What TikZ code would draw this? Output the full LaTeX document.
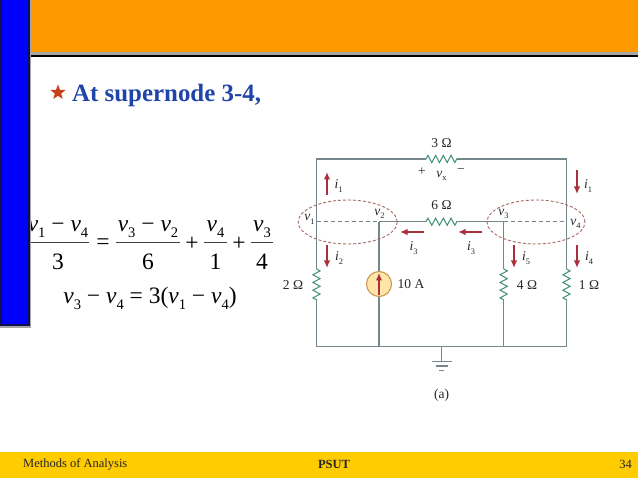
\documentclass[tikz,border=0pt]{standalone}
\usepackage{fontspec}
\setmainfont{Liberation Serif}
\usetikzlibrary{arrows.meta,decorations.pathmorphing,shapes.geometric}

\newcommand{\sub}[2]{\textit{#1}\raisebox{-.26em}{\scalebox{.62}{#2}}}

\definecolor{barblue}{HTML}{0000FF}
\definecolor{baredge}{HTML}{101050}
\definecolor{toporange}{HTML}{FF9900}
\definecolor{footyellow}{HTML}{FFCC00}
\definecolor{headblue}{HTML}{1F45A8}
\definecolor{starred}{HTML}{C8401A}
\definecolor{wiregray}{HTML}{75878C}
\definecolor{resgreen}{HTML}{3F8F72}
\definecolor{arrowred}{HTML}{A8303A}
\definecolor{loopred}{HTML}{A56A66}
\definecolor{srcfill}{HTML}{FFE6A8}
\definecolor{srcedge}{HTML}{C8924A}

\begin{document}
\begin{tikzpicture}[x=1pt,y=-1pt,
	wire/.style={wiregray, line width=1.3pt},
	res/.style={resgreen, line width=1pt, decorate, decoration={zigzag, segment length=7.7pt, amplitude=3.6pt}},
	pile/.style={arrowred, line width=1.6pt, -{Latex[length=7.5pt,width=6.5pt]}},
	loopdash/.style={loopred, line width=0.9pt, dash pattern=on 3pt off 2pt},
	middash/.style={wiregray, line width=0.9pt, dash pattern=on 4pt off 3pt},
	lab/.style={inner sep=0pt, text=black!85, font=\fontsize{13.5}{15}\selectfont},
	big/.style={inner sep=0pt, font=\fontsize{23.5}{27}\selectfont},
	foot/.style={inner sep=0pt, text=black!85, font=\fontsize{12.5}{14}\selectfont},
	frule/.style={black!75, line width=0.8pt}]

	\useasboundingbox (0,0) rectangle (638,478);
	\fill[white] (0,0) rectangle (638,478);

	% Equations
	\node[big] (num1) at (58,229.5) {\sub{v}{1} − \sub{v}{4}};
	\node[big] (den1) at (58,262) {3};
	\node[big] (eq1) at (103,244) {=};
	\node[big] (num2) at (148,229.5) {\sub{v}{3} − \sub{v}{2}};
	\node[big] (den2) at (148,262) {6};
	\node[big] (plus1) at (192,244) {+};
	\node[big] (num3) at (215.5,229.5) {\sub{v}{4}};
	\node[big] (den3) at (215.5,262) {1};
	\node[big] (plus2) at (239,244) {+};
	\node[big] (num4) at (262,229.5) {\sub{v}{3}};
	\node[big] (den4) at (262,262) {4};
	\draw[frule] (30,242) -- (89,242);
	\draw[frule] (116,242) -- (180,242);
	\draw[frule] (204,242) -- (227,242);
	\draw[frule] (251,242) -- (273,242);
	\node[big] (eqline) at (150,298) {\sub{v}{3} − \sub{v}{4} = 3(\sub{v}{1} − \sub{v}{4})};

	% Frame
	\fill[gray!70] (0,0) rectangle (31,328);
	\fill[baredge] (0,0) rectangle (30,326);
	\fill[barblue] (2,0) rectangle (28,324);
	\fill[toporange] (31,0) rectangle (638,52);
	\fill[gray!70] (31,52) rectangle (638,55);
	\fill[black] (31,55) rectangle (638,57);
	\fill[footyellow] (0,452) rectangle (638,478);
	\node[foot, anchor=west] (title) at (23,464.5) {Methods of Analysis};
	\node[foot] (org) at (334,464.5) {\textbf{PSUT}};
	\node[foot, anchor=east] (page) at (632,464.5) {34};

	% Heading
	\node[star, star points=5, star point ratio=2.4, fill=starred, inner sep=0pt, minimum size=16pt] (mark) at (58,92.5) {};
	\node[inner sep=0pt, anchor=west, text=headblue, font=\bfseries\fontsize{24.9}{29}\selectfont] (head) at (72,95.5) {At supernode 3-4,};

	% Junctions
	\coordinate (tl) at (316.5,159);
	\coordinate (tr) at (566.5,159);
	\coordinate (ml) at (316.5,221.7);
	\coordinate (mr) at (566.5,221.7);
	\coordinate (n2) at (379,221.7);
	\coordinate (n3) at (503.7,221.7);
	\coordinate (bl) at (316.5,346.7);
	\coordinate (b2) at (379,346.7);
	\coordinate (b3) at (503.7,346.7);
	\coordinate (br) at (566.5,346.7);
	\coordinate (bg) at (441.5,346.7);
	\coordinate (gnd) at (441.5,361.7);

	% Resistor ends
	\coordinate (r3a) at (426,159);
	\coordinate (r3b) at (457,159);
	\coordinate (r6a) at (426,221.7);
	\coordinate (r6b) at (457,221.7);
	\coordinate (r2a) at (316.5,269);
	\coordinate (r2b) at (316.5,300);
	\coordinate (r4a) at (503.7,269);
	\coordinate (r4b) at (503.7,300);
	\coordinate (r1a) at (566.5,269);
	\coordinate (r1b) at (566.5,300);

	% Wires
	\draw[wire] (r2a) |- (r3a);
	\draw[wire] (r3b) -| (r1a);
	\draw[wire] (n2) -- (r6a);
	\draw[wire] (r6b) -- (n3);
	\draw[wire] (n3) -- (r4a);
	\draw[wire] (r2b) |- (br);
	\draw[wire] (r1b) -- (br);
	\draw[wire] (r4b) -- (b3);
	\draw[wire] (n2) -- (b2);
	\draw[wire] (bg) -- (gnd);
	\draw[middash] (ml) -- (n2);
	\draw[middash] (n3) -- (mr);

	% Resistors
	\draw[res] (r3a) -- (r3b);
	\draw[res] (r6a) -- (r6b);
	\draw[res] (r2a) -- (r2b);
	\draw[res] (r4a) -- (r4b);
	\draw[res] (r1a) -- (r1b);

	% Source
	\node[circle, draw=srcedge, fill=srcfill, line width=1pt, minimum size=25pt, inner sep=0pt] (src) at (379,284) {};
	\draw[pile] (379,295) -- (379,273);

	% Ground
	\draw[wire] (431.5,361.7) -- (451.5,361.7);
	\draw[wire] (435.5,366) -- (447.5,366);
	\draw[wire, line width=0.9pt] (439,370) -- (444,370);

	% Supernodes
	\node[ellipse, loopdash, draw=loopred, minimum width=99pt, minimum height=44pt, inner sep=0pt] (super1) at (347.7,222) {};
	\node[ellipse, loopdash, draw=loopred, minimum width=98pt, minimum height=44pt, inner sep=0pt] (super2) at (536,222) {};

	% Currents
	\draw[pile] (327,195) -- (327,172);
	\draw[pile] (577,170) -- (577,194);
	\draw[pile] (327,245) -- (327,268);
	\draw[pile] (514,245) -- (514,268);
	\draw[pile] (577,245) -- (577,268);
	\draw[pile] (424,232) -- (400,232);
	\draw[pile] (482,232) -- (458,232);

	% Labels
	\node[lab] (l3) at (441.5,143) {3 Ω};
	\node[lab] (l6) at (441.5,205.5) {6 Ω};
	\node[lab] (lp) at (422,172) {+};
	\node[lab] (lvx) at (441.5,176) {\sub{v}{x}};
	\node[lab] (lm) at (461,171) {−};
	\node[lab] (lv1) at (309.5,219.5) {\sub{v}{1}};
	\node[lab] (lv2) at (379.5,214) {\sub{v}{2}};
	\node[lab] (lv3) at (503.5,214) {\sub{v}{3}};
	\node[lab] (lv4) at (575.5,224) {\sub{v}{4}};
	\node[lab] (li1) at (338.5,186) {\sub{i}{1}};
	\node[lab] (li1b) at (588,186) {\sub{i}{1}};
	\node[lab] (li2) at (339,258) {\sub{i}{2}};
	\node[lab] (li3) at (413.5,248) {\sub{i}{3}};
	\node[lab] (li3b) at (471,248) {\sub{i}{3}};
	\node[lab] (li5) at (526,258) {\sub{i}{5}};
	\node[lab] (li4) at (589,258) {\sub{i}{4}};
	\node[lab] (l2) at (293,285) {2 Ω};
	\node[lab] (l10) at (411,284) {10 A};
	\node[lab] (l4) at (527,285) {4 Ω};
	\node[lab] (l1) at (589,285) {1 Ω};
	\node[lab] (la) at (441.5,395) {(a)};

\end{tikzpicture}
\end{document}
